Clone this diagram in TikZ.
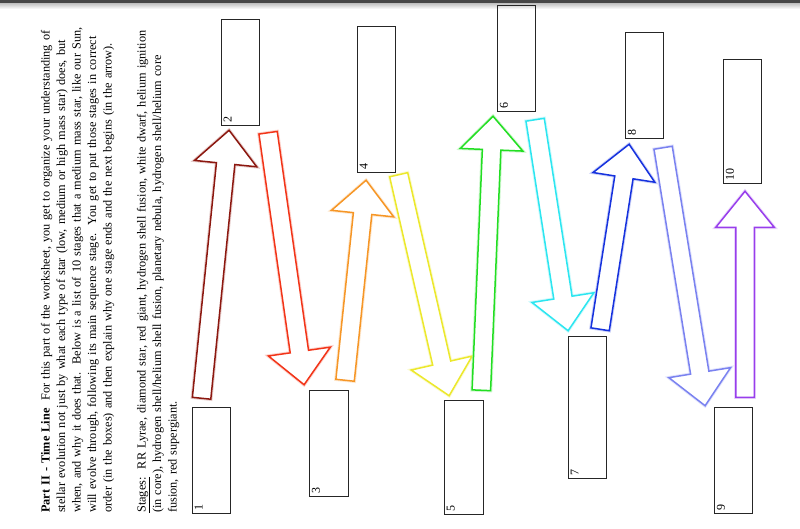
\documentclass[tikz,border=0pt]{standalone}
\usepackage{fontspec}
\setmainfont{Liberation Serif}
\usetikzlibrary{calc, shapes.arrows}

\definecolor{StageMaroon}{RGB}{140,24,16}
\definecolor{StageRed}{RGB}{242,52,24}
\definecolor{StageOrange}{RGB}{246,150,38}
\definecolor{StageYellow}{RGB}{236,232,44}
\definecolor{StageGreen}{RGB}{34,222,34}
\definecolor{StageCyan}{RGB}{44,230,240}
\definecolor{StageBlue}{RGB}{22,50,222}
\definecolor{StagePeri}{RGB}{122,130,240}
\definecolor{StagePurple}{RGB}{152,62,236}

\tikzset{
  stage box/.style={draw=black!85, line width=0.8pt, inner sep=0pt},
  box number/.style={rotate=90, anchor=north west, inner sep=1pt,
     font=\fontsize{12}{12}\selectfont},
  stage arrow/.style={single arrow, draw=#1, line width=1.5pt, fill=white,
     inner sep=0pt, text height=17pt, text depth=0pt, minimum width=0pt,
     single arrow head extend=22pt, single arrow tip angle=86,
     preaction={draw=#1!35, line width=3.4pt, opacity=0.6}},
  sheet text/.style={rotate=90, anchor=base west, text width=520pt,
     align=left, inner sep=0pt, font=\fontsize{12.3}{15.5}\selectfont},
}

% block arrow from one named point to another
\newcommand\stagearrow[5][]{%
  \path let \p1 = ($(#5)-(#4)$), \n1 = {atan2(\y1,\x1)}, \n2 = {veclen(\x1,\y1)} in
    node[stage arrow=#3, rotate=\n1, minimum height=\n2, anchor=tail, #1] (#2) at (#4) {};
}

\begin{document}
\begin{tikzpicture}[x=1pt, y=-1pt]
   \useasboundingbox (0,0) rectangle (800,528);

   % edge of the page
   \fill[black!72] (0,0) rectangle (800,3);
   \shade[top color=black!25, bottom color=white] (0,3) rectangle (800,9);

   % instructions
   \node (intro) at (49.5,513) [sheet text]
      {\textbf{Part II - Time Line}\ \ For this part of the worksheet, you get to organize your understanding of\\
       stellar evolution not just by what each type of star (low, medium or high mass star) does, but\\
       when, and why it does that.\ \ Below is a list of 10 stages that a medium mass star, like our Sun,\\
       will evolve through, following its main sequence stage.\ \ You get to put those stages in correct\\
       order (in the boxes) and then explain why one stage ends and the next begins (in the arrow).};
   \node (stages) at (145.5,513) [sheet text]
      {\underline{Stages:}\ \ RR Lyrae, diamond star, red giant, hydrogen shell fusion, white dwarf, helium ignition\\
       (in core), hydrogen shell/helium shell fusion, planetary nebula, hydrogen shell/helium core\\
       fusion, red supergiant.};

   % boxes
   \node (b1) at (211,460) [stage box, minimum width=38pt, minimum height=106pt] {};
   \node (b2) at (240,72) [stage box, minimum width=38pt, minimum height=106pt] {};
   \node (b3) at (328.5,443) [stage box, minimum width=39pt, minimum height=106pt] {};
   \node (b4) at (376,99) [stage box, minimum width=38pt, minimum height=146pt] {};
   \node (b5) at (463.5,457) [stage box, minimum width=39pt, minimum height=114pt] {};
   \node (b6) at (516,58) [stage box, minimum width=38pt, minimum height=106pt] {};
   \node (b7) at (587,407) [stage box, minimum width=38pt, minimum height=142pt] {};
   \node (b8) at (644,85) [stage box, minimum width=38pt, minimum height=106pt] {};
   \node (b9) at (733,460) [stage box, minimum width=38pt, minimum height=106pt] {};
   \node (b10) at (742,121) [stage box, minimum width=38pt, minimum height=124pt] {};

   \node (n1) at ([shift={(2,-2)}]b1.south west) [box number] {1};
   \node (n2) at ([shift={(2,-2)}]b2.south west) [box number] {2};
   \node (n3) at ([shift={(2,-2)}]b3.south west) [box number] {3};
   \node (n4) at ([shift={(2,-2)}]b4.south west) [box number] {4};
   \node (n5) at ([shift={(2,-2)}]b5.south west) [box number] {5};
   \node (n6) at ([shift={(2,-2)}]b6.south west) [box number] {6};
   \node (n7) at ([shift={(2,-2)}]b7.south west) [box number] {7};
   \node (n8) at ([shift={(2,-2)}]b8.south west) [box number] {8};
   \node (n9) at ([shift={(2,-2)}]b9.south west) [box number] {9};
   \node (n10) at ([shift={(2,-2)}]b10.south west) [box number] {10};

   % arrows: tail and tip
   \coordinate (t1) at (201.5,399);  \coordinate (h1) at (229,131);
   \coordinate (t2) at (268,132);    \coordinate (h2) at (304,384);
   \coordinate (t3) at (345,381);    \coordinate (h3) at (366,181);
   \coordinate (t4) at (398.5,174);  \coordinate (h4) at (449,395);
   \coordinate (t5) at (481.3,391);  \coordinate (h5) at (493,117);
   \coordinate (t6) at (535,119);    \coordinate (h6) at (568,330);
   \coordinate (t7) at (600,330);    \coordinate (h7) at (629,145);
   \coordinate (t8) at (663,147);    \coordinate (h8) at (705,405);
   \coordinate (t9) at (745,398);    \coordinate (h9) at (745,192);

   \stagearrow{a1}{StageMaroon}{t1}{h1}
   \stagearrow{a2}{StageRed}{t2}{h2}
   \stagearrow{a3}{StageOrange}{t3}{h3}
   \stagearrow{a4}{StageYellow}{t4}{h4}
   \stagearrow{a5}{StageGreen}{t5}{h5}
   \stagearrow{a6}{StageCyan}{t6}{h6}
   \stagearrow{a7}{StageBlue}{t7}{h7}
   \stagearrow{a8}{StagePeri}{t8}{h8}
   \stagearrow[single arrow head extend=20pt, single arrow tip angle=78]{a9}{StagePurple}{t9}{h9}
\end{tikzpicture}
\end{document}
